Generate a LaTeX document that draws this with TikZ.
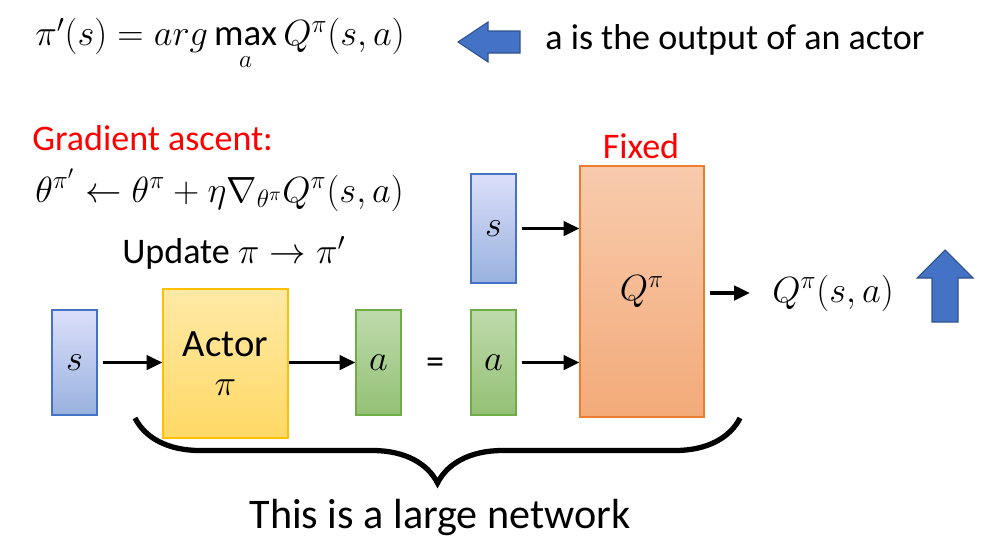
\documentclass[tikz,border=0pt]{standalone}
\usepackage{fontspec}
\setmainfont{Carlito}
\usepackage{amsmath}
\usetikzlibrary{decorations.pathreplacing,arrows.meta,shapes.arrows}
\definecolor{bB}{HTML}{4472C4}\definecolor{gB}{HTML}{70AD47}
\definecolor{yB}{HTML}{FFC000}\definecolor{oB}{HTML}{ED7D31}
\definecolor{arrB}{HTML}{4472C4}\definecolor{arrD}{HTML}{2F528F}
\tikzset{
 box/.style={draw,line width=0.6pt,inner sep=0pt,font=\fontsize{22}{24}\selectfont},
 bluebox/.style={box,draw=bB,top color=blue!25!white!80!bB!40,bottom color=bB!55!white},
 greenbox/.style={box,draw=gB,top color=gB!45!white,bottom color=gB!75!white},
 actorbox/.style={box,draw=yB,top color=yB!35!white,bottom color=yB!60!white},
 qbox/.style={box,draw=oB,top color=oB!40!white,bottom color=oB!65!white},
 conn/.style={-{Triangle[length=9pt,width=8pt]},line width=2.2pt},
 lbl/.style={inner sep=0pt,font=\fontsize{20.5}{23}\selectfont},
 mth/.style={inner sep=0pt,font=\fontsize{21}{24}\selectfont},
 bigarrow/.style={fill=arrB,draw=arrD,line width=0.6pt}
}
\begin{document}
\begin{tikzpicture}[x=0.02cm,y=-0.02cm]
\useasboundingbox (0,0) rectangle (989,556);
\node[mth,anchor=west] (f1) at (35,45) {$\pi'(s)=arg\max\limits_{a}Q^{\pi}(s,a)$};
\draw[bigarrow] (458,42)--(488,22)--(488,31)--(520,31)--(520,53)--(488,53)--(488,62)--cycle;
\node[lbl,anchor=west] (t1) at (545,40) {a is the output of an actor};
\node[lbl,anchor=west,text=red] (ga) at (32,138) {Gradient ascent:};
\node[mth,anchor=west] (f2) at (35,190) {$\theta^{\pi'}\leftarrow\theta^{\pi}+\eta\nabla_{\theta^{\pi}}Q^{\pi}(s,a)$};
\node[lbl,anchor=west] (up) at (122,253) {Update $\pi\rightarrow\pi'$};
\node[bluebox,minimum width=45*0.02cm,minimum height=105*0.02cm] (s1) at (74.5,362.5) {$s$};
\node[actorbox,minimum width=125*0.02cm,minimum height=149*0.02cm,align=center] (actor) at (225.5,363.5) {Actor\\[-2pt]$\pi$};
\node[greenbox,minimum width=45*0.02cm,minimum height=105*0.02cm] (a1) at (378.5,362.5) {$a$};
\node[lbl] (eq) at (435,366) {=};
\node[greenbox,minimum width=45*0.02cm,minimum height=105*0.02cm] (a2) at (493.5,362.5) {$a$};
\node[bluebox,minimum width=45*0.02cm,minimum height=109*0.02cm] (s2) at (493.5,228.5) {$s$};
\node[qbox,minimum width=124*0.02cm,minimum height=251*0.02cm] (q) at (642,291.5) {$Q^{\pi}$};
\node[lbl,text=red] (fx) at (641,146) {Fixed};
\node[mth,anchor=west] (qo) at (772,293) {$Q^{\pi}(s,a)$};
\coordinate (qe) at (750,293);
\draw[conn] (s1.east)+(5,0) -- (actor.west|-s1);
\draw[conn] (actor.east|-a1) -- (a1.west);
\draw[conn] (a2.east)+(5,0) -- (q.west|-a2);
\draw[conn] (s2.east)+(5,0) -- (q.west|-s2);
\draw[conn] (q.east|-qe)+(5,0) -- (qe);
\draw[bigarrow] (945,250)--(973,278)--(958,278)--(958,322)--(932,322)--(932,278)--(917,278)--cycle;
\draw[line width=3pt,decorate,decoration={brace,mirror,amplitude=1.3cm}] (135,418) -- (740,418);
\node[lbl,font=\fontsize{24}{27}\selectfont] (big) at (440,517) {This is a large network};
\end{tikzpicture}
\end{document}
